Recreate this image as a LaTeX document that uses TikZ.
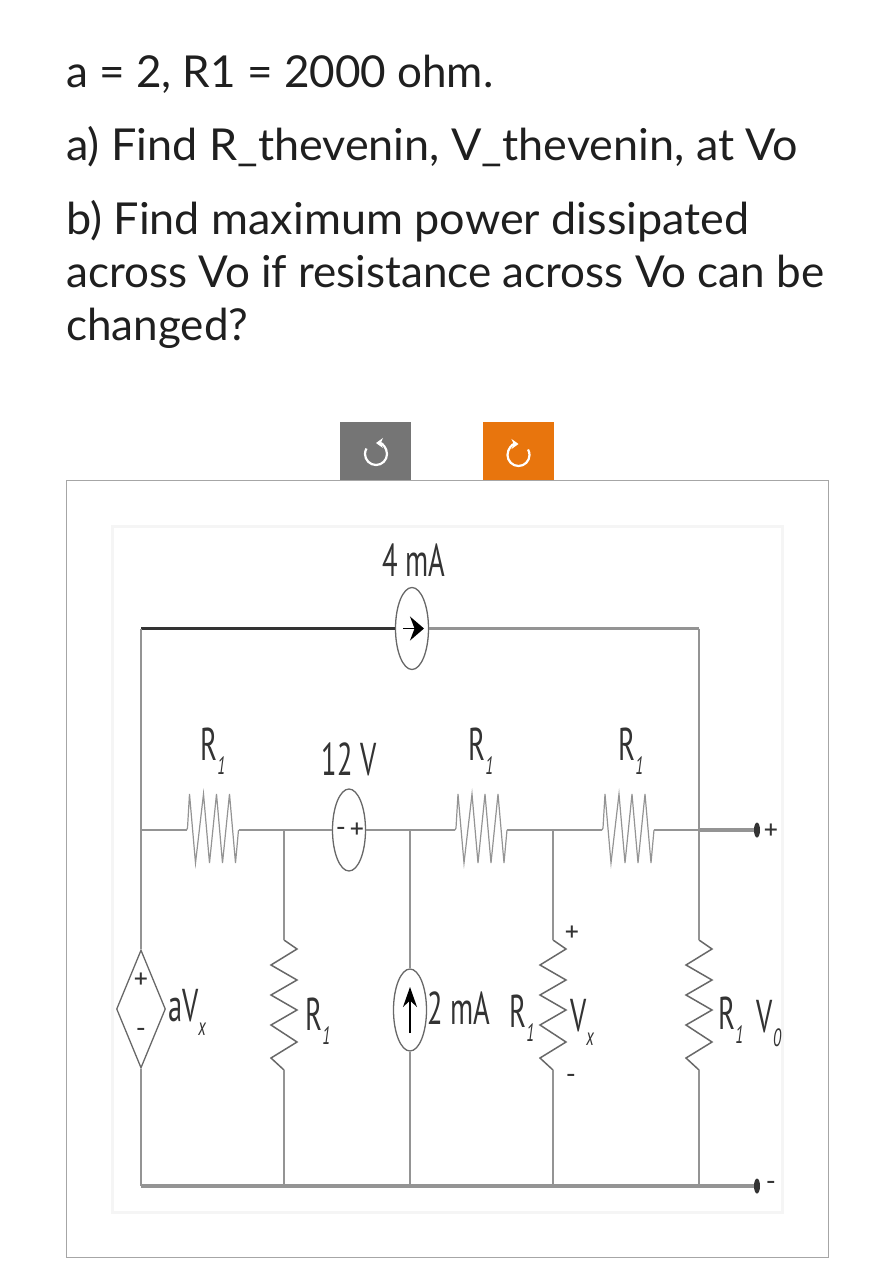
\documentclass[tikz,border=0pt]{standalone}
\usepackage{fontspec}
\usepackage{graphicx}
\usepackage{tikz}
\usetikzlibrary{positioning}
\usetikzlibrary{shapes.geometric}
\usetikzlibrary{arrows.meta}
\setmainfont{Lato}
\newfontfamily\handfont{PT Sans}
\definecolor{wiregray}{rgb}{0.58,0.58,0.58}
\definecolor{inkgray}{rgb}{0.2,0.2,0.2}
\definecolor{btngray}{rgb}{0.46,0.46,0.46}
\definecolor{btnorange}{rgb}{0.91,0.46,0.05}
\definecolor{textgray}{rgb}{0.12,0.12,0.12}
\newcommand{\handlab}[1]{\scalebox{.62}[1]{#1}}
\newcommand{\sublab}[2]{\handlab{#1\raisebox{-14pt}{\fontsize{25}{25}\selectfont\itshape #2}}}
\newcommand{\widerline}[1]{\scalebox{1.022}[1]{#1}}

\tikzset{
    hres/.pic={
        \draw[wire,line width=1.2pt] (-26,0) -- (-25,-2) -- (-23,-36) -- (-17,33) -- (-9,-36) -- (-3,33) -- (4,-36) -- (10,33) -- (17,-36) -- (23,33) -- (26,0);
        \coordinate (-w) at (-26,0);
        \coordinate (-e) at (26,0);
    },
    vres/.pic={
        \draw[wire,draw=wiregray!70!black,line width=1.5pt] (0,-65) -- (13,-56) -- (-13,-40) -- (13,-25) -- (-13,-10) -- (13,5) -- (-13,20) -- (13,37) -- (-13,53) -- (0,65);
        \coordinate (-n) at (0,-65);
        \coordinate (-s) at (0,65);
    }
}

\begin{document}
\begin{tikzpicture}[
            > = stealth, % arrow head style
            x = 1pt, y = -1pt, % one unit is one pixel
            wire/.style = {draw = wiregray, line width = 1.5pt},
            bus/.style = {draw = wiregray, line width = 3.2pt},
            source/.style = {ellipse, draw = wiregray!70!black, line width = 1.3pt, fill = white, inner sep = 0pt, minimum width = 33pt, minimum height = 82pt},
            prompt/.style = {anchor = base west, inner sep = 0pt, text = textgray, font = \fontsize{44}{44}\selectfont},
            lab/.style = {inner sep = 0pt, text = inkgray, font = \handfont\fontsize{46}{46}\selectfont},
            signs/.style = {inner sep = 0pt, text = inkgray, font = \handfont\fontsize{28}{28}\selectfont},
            term/.style = {ellipse, fill = inkgray, inner sep = 0pt, minimum width = 6pt, minimum height = 15pt},
            btn/.style = {inner sep = 0pt, minimum width = 71pt, minimum height = 58pt},
            icon/.style = {{Stealth[length=7pt,width=10pt]}-, white, line width = 2.2pt}
            ]

        \useasboundingbox (0,0) rectangle (888,1264);

        % question text
        \node[prompt] (Q1) at (66,87) {a = 2, R1 = 2000 ohm.};
        \node[prompt] (Q2) at (66,160) {\widerline{a) Find R\_thevenin, V\_thevenin, at Vo}};
        \node[prompt] (Q3) at (66,234) {\widerline{b) Find maximum power dissipated}};
        \node[prompt] (Q4) at (66,287) {across Vo if resistance across Vo can be};
        \node[prompt] (Q5) at (66,340) {changed?};

        % frame and buttons
        \node[draw = black!35, line width = 1pt, minimum width = 762pt, minimum height = 777pt, inner sep = 0pt] (FR) at (447,868.5) {};
        \node[draw = black!4, line width = 3pt, minimum width = 670pt, minimum height = 686pt, inner sep = 0pt] (IMG) at (447,869) {};
        \node[btn, fill = btngray] (UNDO) at (375,451) {};
        \node[btn, fill = btnorange] (REDO) at (518.5,451) {};
        \draw[icon] (UNDO.center) ++(1,-8) arc[start angle = -90, delta angle = 300, radius = 11];
        \draw[icon] (REDO.center) ++(0,-7) arc[start angle = -90, delta angle = -300, radius = 11];

        % corners
        \coordinate (TL) at (141,628.5);
        \coordinate (TR) at (699,628.5);
        \coordinate (BL) at (141,1186);
        \coordinate (BR) at (699,1186);
        \coordinate (ML) at (141,830);
        \coordinate (MR) at (699,830);
        \coordinate (J1) at (284,830);
        \coordinate (J2) at (410,830);
        \coordinate (J3) at (553,830);
        \coordinate (B1) at (284,1186);
        \coordinate (B2) at (410,1186);
        \coordinate (B3) at (553,1186);

        % sources
        \node[source] (IS4) at (412,628.5) {};
        \node[source] (VS12) at (349,830) {};
        \node[source] (IS2) at (410,1010) {};
        \node[diamond, draw = wiregray!70!black, line width = 1.3pt, inner sep = 0pt, minimum width = 49pt, minimum height = 118pt] (DEP) at (141,1009) {};

        % resistors
        \pic (R1) at (212.5,830) {hres};
        \pic (R2) at (481,830) {hres};
        \pic (R3) at (628,830) {hres};
        \pic (R4) at (284,1005) {vres};
        \pic (R5) at (553,1005) {vres};
        \pic (R6) at (699,1005) {vres};

        % output terminals
        \node[term] (OUTP) at (757,830) {};
        \node[term] (OUTM) at (757,1186) {};

        % top branch
        \draw[draw = inkgray, line width = 2.6pt] (TL) -- (IS4.west);
        \draw[wire, line width = 2.6pt] (IS4.east) -- (TR);
        \draw[wire] (TL) -- (ML);
        \draw[wire] (TR) -- (MR);

        % middle branch
        \draw[wire, line width = 2pt] (ML) -- (R1-w);
        \draw[wire, line width = 2pt] (R1-e) -- (VS12.west);
        \draw[wire, line width = 2pt] (VS12.east) -- (R2-w);
        \draw[wire, line width = 2pt] (R2-e) -- (R3-w);
        \draw[wire, line width = 2pt] (R3-e) -- (MR);
        \draw[bus] (MR) -- (OUTP);

        % down to the bottom rail
        \draw[wire] (ML) -- (DEP.north);
        \draw[wire] (DEP.south) -- (BL);
        \draw[wire] (J1) -- (R4-n);
        \draw[wire] (R4-s) -- (B1);
        \draw[wire] (J2) -- (IS2.north);
        \draw[wire] (IS2.south) -- (B2);
        \draw[wire] (J3) -- (R5-n);
        \draw[wire] (R5-s) -- (B3);
        \draw[wire] (MR) -- (R6-n);
        \draw[wire] (R6-s) -- (BR);
        \draw[bus] (BL) -- (OUTM);

        % source arrows
        \coordinate (A4L) at (403,628.5);
        \coordinate (A4R) at (424,628.5);
        \draw[-{Stealth[length=14pt,width=24pt]}, draw = black, line width = 1.6pt] (A4L) -- (A4R);
        \coordinate (A2B) at (410,1033);
        \coordinate (A2T) at (410,987);
        \draw[-{Stealth[length=20pt,width=14pt]}, draw = black, line width = 1.3pt] (A2B) -- (A2T);

        % signs
        \node[signs] (VSM) at (341,832) {-};
        \node[signs] (VSP) at (357,831) {+};
        \node[signs] (DEPP) at (141,981) {+};
        \node[signs] (DEPM) at (141,1033) {-};
        \node[signs] (VXP) at (572,934) {+};
        \node[signs] (VXM) at (571,1079) {-};
        \node[signs] (OUTPS) at (771,832) {+};
        \node[signs] (OUTMS) at (771,1186) {-};

        % labels
        \node[lab] (L4MA) at (414,560) {\handlab{4 mA}};
        \node[lab] (L12V) at (349,759) {\handlab{12 V}};
        \node[lab] (LR1) at (213,751) {\sublab{R}{1}};
        \node[lab] (LR2) at (481,751) {\sublab{R}{1}};
        \node[lab] (LR3) at (631,751) {\sublab{R}{1}};
        \node[lab] (LAV) at (187,1012) {\sublab{aV}{x}};
        \node[lab] (LR4) at (318,1021) {\sublab{R}{1}};
        \node[lab] (L2MA) at (459,1008) {\handlab{2 mA}};
        \node[lab] (LR5) at (522,1018) {\sublab{R}{1}};
        \node[lab] (LVX) at (582,1022) {\sublab{V}{x}};
        \node[lab] (LR6) at (731,1020) {\sublab{R}{1}};
        \node[lab] (LV0) at (769,1024) {\sublab{V}{0}};

\end{tikzpicture}
\end{document}
